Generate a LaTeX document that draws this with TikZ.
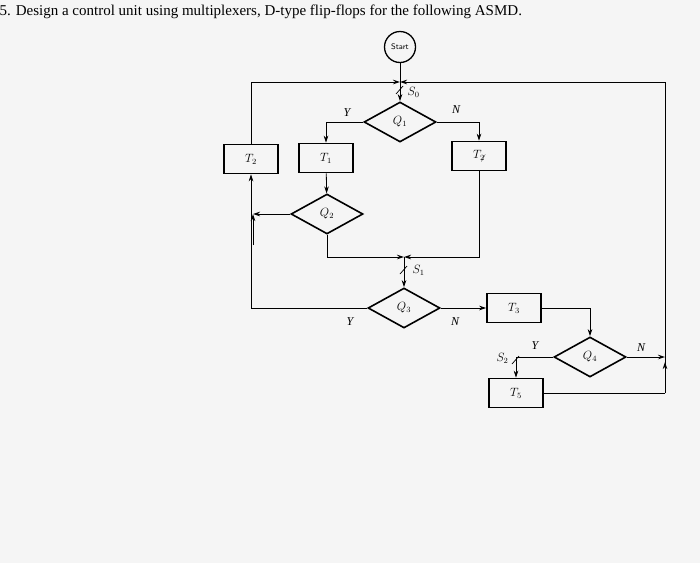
\documentclass[tikz,border=0pt]{standalone}
\usepackage{fontspec}
\setmainfont{Liberation Serif}
\usetikzlibrary{shapes.geometric,arrows.meta}
\begin{document}
\begin{tikzpicture}[x=1pt,y=-1pt,
  box/.style={draw,line width=1.6pt,minimum width=54pt,minimum height=29pt,inner sep=0pt,font=\large},
  dec/.style={draw,diamond,aspect=1.8,line width=1.6pt,minimum width=72pt,minimum height=40pt,inner sep=0pt,font=\large},
  ln/.style={line width=0.8pt},
  ar/.style={ln,-{Stealth[length=7pt,width=4.5pt]}},
  lbl/.style={font=\large\itshape},
  tick/.style={line width=0.7pt}]
\useasboundingbox (0,0) rectangle (700,563);
\fill[gray!8] (0,0) rectangle (700,563);
\node[anchor=west,font=\fontsize{15}{18}\selectfont] (title) at (-4,12) {5. Design a control unit using multiplexers, D-type flip-flops for the following ASMD.};
\node[draw,circle,line width=1.3pt,minimum size=31pt,inner sep=0pt,font=\footnotesize\sffamily] (start) at (400,47) {Start};
\node[dec] (q1) at (400,122) {$Q_1$};
\node[box] (t1) at (326,158) {$T_1$};
\node[box] (t2) at (251,159) {$T_2$};
\node[box] (t4) at (479,156) {$T_{\not 2}$};
\node[dec] (q2) at (327,214) {$Q_2$};
\node[dec] (q3) at (404,308) {$Q_3$};
\node[box] (t3) at (514,308) {$T_3$};
\node[dec] (q4) at (590,357) {$Q_4$};
\node[box] (t5) at (516,393) {$T_5$};
\coordinate (j0) at (400,82);
\coordinate (j1) at (404,257);
\coordinate (rt) at (665,82);
\coordinate (rb) at (665,393);
\draw[ln] (start) -- (j0);
\draw[ar] (j0) -- (q1.north);
\draw[tick] (396,94) -- (403,86);
\node[lbl,anchor=west] (s0) at (404,92) {$S_0$};
\draw[ar] (t2.north) |- (j0);
\draw[ar] (rb) -- (rt) -- (j0);
\draw[ar] (q1.west) -| (t1.north);
\node[lbl] (y1) at (347,113) {Y};
\draw[ar] (q1.east) -| (t4.north);
\node[lbl] (n1) at (456,110) {N};
\draw[ar] (t1) -- (q2);
\draw[ar] (q2.west) -- (253,214);
\draw[ar] (q3.west) -| (t2.south);
\draw[ar] (253,245) -- (253,214);
\node[lbl] (y3) at (350,322) {Y};
\draw[ar] (q2.south) |- (j1);
\draw[ar] (t4.south) |- (j1);
\draw[ar] (j1) -- (q3.north);
\draw[tick] (400,274) -- (407,266);
\node[lbl,anchor=west] (s1) at (409,270) {$S_1$};
\draw[ar] (q3.east) -- (t3.west);
\node[lbl] (n3) at (455,322) {N};
\draw[ar] (t3.east) -| (q4.north);
\draw[ar] (q4.west) -| (t5.north);
\draw[tick] (512,364) -- (519,356);
\node[lbl,anchor=east] (s2) at (512,358) {$S_2$};
\node[lbl] (y4) at (535,346) {Y};
\draw[ar] (q4.east) -- (665,357);
\node[lbl] (n4) at (641,348) {N};
\draw[ln] (t5.east) -- (rb);
\draw[ar] (rb) -- (665,362);
\end{tikzpicture}
\end{document}
